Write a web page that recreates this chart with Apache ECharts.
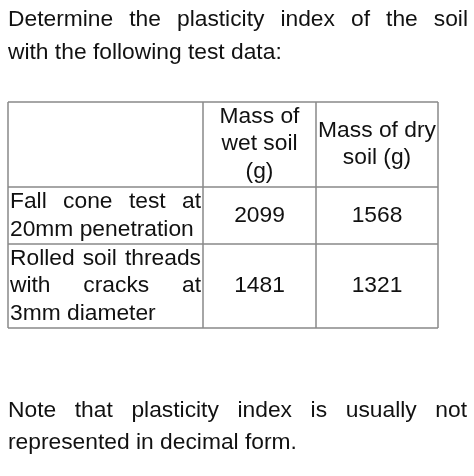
<!DOCTYPE html>
<html><head><meta charset="utf-8">
<script src="https://cdn.jsdelivr.net/npm/echarts@6/dist/echarts.min.js"></script>
<style>html,body{margin:0;padding:0;background:#fff}#c{width:474px;height:476px}</style>
</head><body><div id="c"></div>
<script>
const questionLines = ["Determine the plasticity index of the soil", "with the following test data:"];
const noteLines = ["Note that plasticity index is usually not", "represented in decimal form."];
const headers = [["Mass of", "wet soil", "(g)"], ["Mass of dry", "soil (g)"]];
const rowLabels = [["Fall cone test at", "20mm penetration"], ["Rolled soil threads", "with cracks at", "3mm diameter"]];
const wetMass = [2099, 1481];
const dryMass = [1568, 1321];

const FONT = '22.8px "Liberation Sans", Arial, sans-serif';
const ctx = document.createElement('canvas').getContext('2d');
ctx.font = FONT;
const els = [];
function txt(s, x, y, align) {
  els.push({type:'text', x, y, style:{text:s, font:FONT, fill:'#111', align:align||'left', verticalAlign:'middle'}});
}
function justify(s, x0, x1, y) {
  const w = s.split(' ');
  if (w.length < 2) { txt(s, x0, y); return; }
  const tot = w.reduce((a,b)=>a+ctx.measureText(b).width,0);
  const gap = (x1-x0-tot)/(w.length-1);
  let x = x0;
  w.forEach(t=>{ txt(t, x, y); x += ctx.measureText(t).width + gap; });
}
function line(x1,y1,x2,y2){els.push({type:'line',shape:{x1,y1,x2,y2},style:{stroke:'#888',lineWidth:1.5}});}

justify(questionLines[0], 8, 468, 20);
txt(questionLines[1], 8, 53);
justify(noteLines[0], 8, 467, 411);
txt(noteLines[1], 8, 443);

const xs = [8, 203, 316, 438];
const ys = [102, 187, 244, 328];
xs.forEach(x=>line(x, ys[0], x, ys[3]));
ys.forEach(y=>line(xs[0], y, xs[3], y));

const lh = 27.5;
function block(lines, cx, cy) {
  lines.forEach((l,i)=>txt(l, cx, cy + (i-(lines.length-1)/2)*lh, 'center'));
}
block(headers[0], (xs[1]+xs[2])/2, 144);
block(headers[1], (xs[2]+xs[3])/2, 144);
rowLabels.forEach((lines, r)=>{
  const cy = (ys[r+1]+ys[r+2])/2;
  lines.forEach((l,i)=>{
    const y = cy + (i-(lines.length-1)/2)*lh;
    if (i < lines.length-1) justify(l, 10, 201, y); else txt(l, 10, y);
  });
  txt(String(wetMass[r]), (xs[1]+xs[2])/2, cy, 'center');
  txt(String(dryMass[r]), (xs[2]+xs[3])/2, cy, 'center');
});

const chart = echarts.init(document.getElementById('c'));
chart.setOption({backgroundColor:'#fff', graphic:{elements:els}});
</script></body></html>
